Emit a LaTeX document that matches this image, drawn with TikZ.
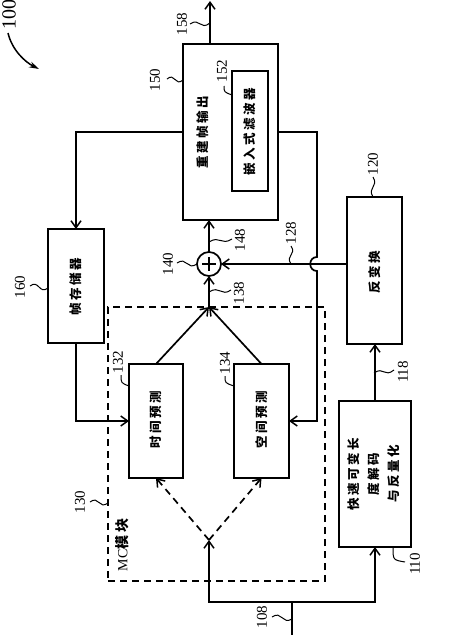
\documentclass[tikz,border=0pt]{standalone}
\usepackage{fontspec}
\setmainfont{Liberation Serif}
\newfontfamily\cjk[LetterSpace=20]{Noto Sans CJK SC}
\usetikzlibrary{arrows.meta,calc}
\tikzset{
  box/.style={draw,line width=1.7pt,inner sep=0pt,outer sep=0pt},
  ctext/.style={rotate=90,inner sep=0pt,font=\cjk\bfseries\fontsize{12.5}{20}\selectfont,align=center},
  lbl/.style={rotate=90,inner sep=0pt,font=\fontsize{15}{15}\selectfont},
  wire/.style={line width=1.7pt},
  arr/.style={line width=1.7pt,-{Straight Barb[length=7pt,width=10pt,line width=1.5pt]}},
  dline/.style={dash pattern=on 7pt off 5pt},
  lead/.style={line width=1pt},
}
\begin{document}
\begin{tikzpicture}[x=1pt,y=-1pt]
\useasboundingbox (0,0) rectangle (474,635);
% boxes
\node[box,minimum width=95pt,minimum height=176pt] (b150) at (230.5,132) {};
\node[box,minimum width=36pt,minimum height=120pt] (b152) at (250,131) {};
\node[box,minimum width=55pt,minimum height=147pt] (b120) at (374.5,270.5) {};
\node[box,minimum width=56pt,minimum height=114pt] (b160) at (76,286) {};
\node[box,minimum width=54pt,minimum height=114pt] (b132) at (156,421) {};
\node[box,minimum width=55pt,minimum height=114pt] (b134) at (261.5,421) {};
\node[box,minimum width=72pt,minimum height=146pt] (b110) at (375,474) {};
\node[box,dline,minimum width=217pt,minimum height=274pt] (mc) at (216.5,444) {};
\node[box,circle,minimum size=24pt] (sum) at (209,264) {};
\draw[wire] ($(sum)+(-7,0)$) -- ($(sum)+(7,0)$) ($(sum)+(0,-7)$) -- ($(sum)+(0,7)$);
% box texts
\node[ctext] (t150) at (203,132) {重建帧输出};
\node[ctext] (t152) at (250,132) {嵌入式滤波器};
\node[ctext] (t120) at (375,272) {反变换};
\node[ctext] (t160) at (76,287) {帧存储器};
\node[ctext] (t132) at (156,420) {时间预测};
\node[ctext] (t134) at (261.5,420) {空间预测};
\node[ctext] (t110) at (374,474) {快速可变长\\度解码\\与反量化};
\node[rotate=90,inner sep=0pt,font=\fontsize{14}{14}\selectfont] (tmc) at (122,545) {MC{\cjk\bfseries 模块}};
% coordinates
\coordinate (o158) at (210,1);
\coordinate (apex) at (209,307);
\coordinate (ja) at (317,257);
\coordinate (jb) at (317,271);
\coordinate (in) at (292,635);
\coordinate (split) at (292,602);
\coordinate (ypt) at (209,540);
% connectors
\draw[arr] (b150.north -| o158) -- (o158);
\draw[arr] (b150.west) -| (b160.north);
\draw[arr] (b160.south) |- (b132.west);
\draw[arr] (b150.east) -| (ja) .. controls +(-9,0) and +(-9,0) .. (jb) |- (b134.east);
\draw[arr] (b120.west |- sum) -- (sum.east);
\draw[arr] (sum.north) -- (sum.north |- b150.south);
\draw[arr] (apex) -- (sum.south);
\draw[arr] (b132.north) -- (apex);
\draw[arr] (b134.north) -- (apex);
\draw[arr] (b110.north) -- (b110.north |- b120.south);
\draw[wire] (in) -- (split);
\draw[arr] (split) -| (b110.south);
\draw[arr] (split) -| (ypt);
\draw[arr,dline] (ypt) -- (b132.south);
\draw[arr,dline] (ypt) -- (b134.south);
% labels
\node[lbl,font=\fontsize{20}{20}\selectfont] (l100) at (9,14) {100};
\draw[line width=1.5pt,-{Stealth[length=10pt,width=6pt]}] (8,33) .. controls (12,50) and (25,62) .. (39,69);
\node[lbl] (l158) at (182,24) {158};
\node[lbl] (l150) at (155,80) {150};
\node[lbl] (l152) at (222,71) {152};
\node[lbl] (l120) at (373,164) {120};
\node[lbl] (l128) at (291,233) {128};
\node[lbl] (l148) at (240,240) {148};
\node[lbl] (l140) at (168,264) {140};
\node[lbl] (l138) at (239,293) {138};
\node[lbl] (l160) at (20,287) {160};
\node[lbl] (l132) at (118,362) {132};
\node[lbl] (l134) at (225,363) {134};
\node[lbl] (l130) at (80,502) {130};
\node[lbl] (l118) at (403,372) {118};
\node[lbl] (l110) at (415,564) {110};
\node[lbl] (l108) at (262,617) {108};
% lead lines
\draw[lead] (190,24) .. controls (200,17) and (200,31) .. (210,23);
\draw[lead] (167,79) .. controls (175,72) and (175,87) .. (183,80);
\draw[lead] (224,86) .. controls (224,92) .. (232,95);
\draw[lead] (373,177) .. controls (379,187) and (367,187) .. (373,197);
\draw[lead] (291,246) .. controls (297,255) and (285,255) .. (291,264);
\draw[lead] (209,242) .. controls (220,235) and (221,246) .. (232,239);
\draw[lead] (177,263) .. controls (187,256) and (187,271) .. (197,264);
\draw[lead] (209,292) .. controls (220,285) and (221,297) .. (231,290);
\draw[lead] (30,286) .. controls (39,279) and (39,295) .. (48,288);
\draw[lead] (121,375) .. controls (121,383) .. (129,386);
\draw[lead] (225,376) .. controls (225,383) .. (234,386);
\draw[lead] (90,502) .. controls (99,495) and (99,510) .. (108,503);
\draw[lead] (374,373) .. controls (384,366) and (384,378) .. (394,370);
\draw[lead] (393,547) .. controls (393,560) .. (405,562);
\draw[lead] (272,617) .. controls (282,610) and (282,625) .. (292,619);
\end{tikzpicture}
\end{document}
